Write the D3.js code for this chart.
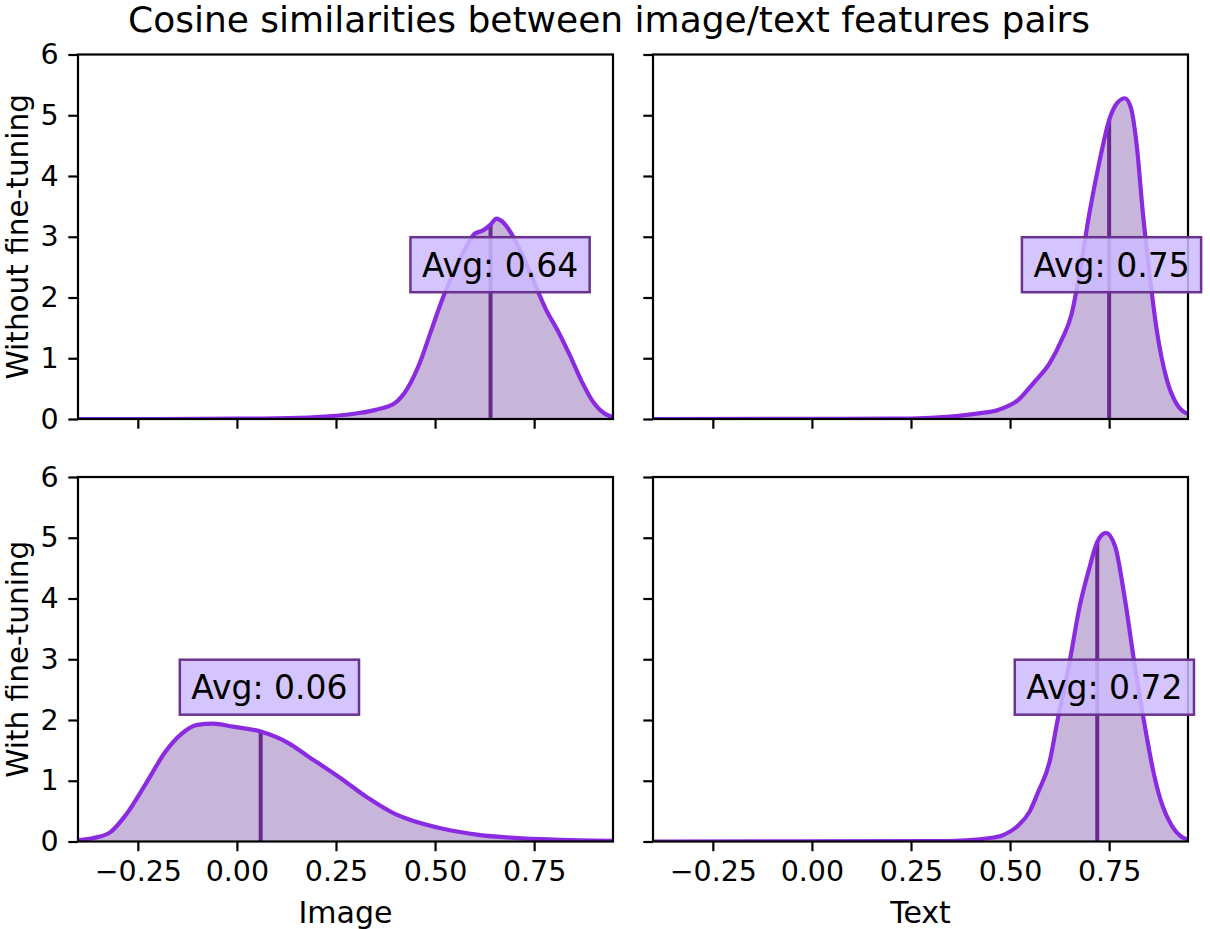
<!DOCTYPE html>
<html>
<head>
<meta charset="utf-8">
<script src="https://cdn.jsdelivr.net/npm/d3@7"></script>
<style>
  body { margin: 0; background: #fff; }
  svg text { font-family: "DejaVu Sans", sans-serif; }
</style>
</head>
<body>
<svg id="chart" width="1210" height="929"></svg>
<script>
// Density curves (x = cosine similarity, y = density)
const imgBeforeX = [-0.40, -0.20, 0.00, 0.10, 0.20, 0.30, 0.35, 0.40, 0.43, 0.46, 0.49, 0.52, 0.55, 0.58, 0.60, 0.62, 0.64, 0.655, 0.67, 0.69, 0.72, 0.75, 0.78, 0.81, 0.84, 0.87, 0.90, 0.93, 0.95];
const imgBeforeY = [0, 0, 0.005, 0.01, 0.03, 0.09, 0.15, 0.27, 0.5, 0.9, 1.45, 2.0, 2.45, 2.85, 3.05, 3.1, 3.2, 3.3, 3.25, 3.08, 2.7, 2.25, 1.8, 1.45, 1.05, 0.62, 0.27, 0.08, 0.03];

const txtBeforeX = [-0.40, 0.20, 0.30, 0.37, 0.43, 0.47, 0.52, 0.56, 0.60, 0.63, 0.655, 0.675, 0.70, 0.725, 0.75, 0.77, 0.79, 0.805, 0.82, 0.835, 0.85, 0.87, 0.895, 0.92, 0.95];
const txtBeforeY = [0, 0.005, 0.02, 0.05, 0.1, 0.15, 0.31, 0.6, 0.92, 1.3, 1.72, 2.38, 3.38, 4.22, 4.92, 5.2, 5.28, 5.12, 4.48, 3.4, 2.5, 1.47, 0.66, 0.25, 0.08];

const imgAfterX = [-0.40, -0.36, -0.32, -0.28, -0.23, -0.18, -0.14, -0.10, -0.06, -0.01, 0.06, 0.13, 0.18, 0.26, 0.33, 0.40, 0.44, 0.52, 0.61, 0.70, 0.80, 0.95];
const imgAfterY = [0.02, 0.06, 0.15, 0.44, 0.95, 1.48, 1.77, 1.92, 1.94, 1.89, 1.81, 1.62, 1.40, 1.05, 0.72, 0.45, 0.35, 0.21, 0.11, 0.06, 0.03, 0.01];

const txtAfterX = [-0.40, 0.30, 0.39, 0.44, 0.48, 0.52, 0.55, 0.57, 0.60, 0.62, 0.65, 0.675, 0.70, 0.72, 0.742, 0.765, 0.79, 0.815, 0.845, 0.86, 0.88, 0.91, 0.95];
const txtAfterY = [0, 0.005, 0.02, 0.05, 0.1, 0.26, 0.5, 0.8, 1.32, 2.0, 2.95, 3.85, 4.5, 4.93, 5.08, 4.86, 3.98, 2.88, 1.72, 1.2, 0.68, 0.24, 0.02];

const means = [0.64, 0.75, 0.06, 0.72];
const labelX = [0.664, 0.756, 0.082, 0.738];   // centre of the "Avg" boxes
const labelY = 2.54;

const xTicks = [-0.25, 0, 0.25, 0.5, 0.75];
const yTicks = [0, 1, 2, 3, 4, 5, 6];
const rowLabels = ["Without fine-tuning", "With fine-tuning"];
const colLabels = ["Image", "Text"];

const panels = [
  {row: 0, col: 0, xs: imgBeforeX, ys: imgBeforeY},
  {row: 0, col: 1, xs: txtBeforeX, ys: txtBeforeY},
  {row: 1, col: 0, xs: imgAfterX, ys: imgAfterY},
  {row: 1, col: 1, xs: txtAfterX, ys: txtAfterY}
];

// layout
const colLeft = [78, 653], panelW = 535;
const rowTop = [54.5, 477], panelH = 364.5;
const tickFont = "28.5px", labelFont = "30px", annFont = "33px";

const svg = d3.select("#chart");

svg.append("text")
  .attr("x", 609).attr("y", 32)
  .attr("text-anchor", "middle")
  .style("font-size", "36px")
  .text("Cosine similarities between image/text features pairs");

const defs = svg.append("defs");

panels.forEach((p, i) => {
  const g = svg.append("g")
    .attr("transform", `translate(${colLeft[p.col]}, ${rowTop[p.row]})`);

  const x = d3.scaleLinear().domain([-0.401, 0.949]).range([0, panelW]);
  const y = d3.scaleLinear().domain([0, 6]).range([panelH, 0]);

  defs.append("clipPath").attr("id", "clip" + i)
    .append("rect").attr("width", panelW).attr("height", panelH);

  const pts = p.xs.map((v, k) => [v, p.ys[k]]);
  const plot = g.append("g").attr("clip-path", `url(#clip${i})`);

  // filled density
  plot.append("path")
    .datum(pts)
    .attr("fill", "#c8b5da")
    .attr("d", d3.area()
      .x(d => x(d[0])).y0(y(0)).y1(d => y(d[1]))
      .curve(d3.curveMonotoneX));

  // mean line up to the curve
  const m = means[i];
  const k = d3.bisector(d => d[0]).left(pts, m);
  const a = pts[k - 1], b = pts[k];
  const top = a[1] + (b[1] - a[1]) * (m - a[0]) / (b[0] - a[0]);
  plot.append("line")
    .attr("x1", x(m)).attr("x2", x(m))
    .attr("y1", y(0)).attr("y2", y(top))
    .attr("stroke", "#682a8c")
    .attr("stroke-width", 4);

  // kde line
  plot.append("path")
    .datum(pts)
    .attr("fill", "none")
    .attr("stroke", "#8a2be2")
    .attr("stroke-width", 4.2)
    .attr("d", d3.line()
      .x(d => x(d[0])).y(d => y(d[1]))
      .curve(d3.curveMonotoneX));

  // axes
  const xAxis = g.append("g")
    .attr("transform", `translate(0, ${panelH})`)
    .call(d3.axisBottom(x).tickValues(xTicks)
      .tickSize(9.7).tickPadding(9.7)
      .tickFormat(p.row === 1 ? d3.format(".2f") : () => ""));
  const yAxis = g.append("g")
    .call(d3.axisLeft(y).tickValues(yTicks)
      .tickSize(9.7).tickPadding(9.7)
      .tickFormat(p.col === 0 ? d3.format("d") : () => ""));
  [xAxis, yAxis].forEach(ax => {
    ax.select(".domain").remove();
    ax.selectAll("line").attr("stroke", "#000").attr("stroke-width", 2.2);
    ax.selectAll("text")
      .style("font-size", tickFont)
      .style("font-family", "DejaVu Sans")
      .attr("fill", "#000");
  });

  // frame
  g.append("rect")
    .attr("width", panelW).attr("height", panelH)
    .attr("fill", "none")
    .attr("stroke", "#000")
    .attr("stroke-width", 2.2);

  // Avg box
  const ann = g.append("g")
    .attr("transform", `translate(${x(labelX[i])}, ${y(labelY)})`);
  const box = ann.append("rect");
  const txt = ann.append("text")
    .attr("text-anchor", "middle")
    .attr("dy", "0.36em")
    .style("font-size", annFont)
    .text("Avg: " + d3.format(".2f")(m));
  const tw = txt.node().getComputedTextLength();
  box.attr("x", -tw / 2 - 11.5).attr("y", -27.5)
    .attr("width", tw + 23).attr("height", 55)
    .attr("fill", "#ccbbff")
    .attr("fill-opacity", 0.85)
    .attr("stroke", "#6b3390")
    .attr("stroke-width", 2.5);

  if (p.row === 1) {
    g.append("text")
      .attr("x", panelW / 2).attr("y", panelH + 81)
      .attr("text-anchor", "middle")
      .style("font-size", labelFont)
      .text(colLabels[p.col]);
  }
  if (p.col === 0) {
    g.append("text")
      .attr("transform", `translate(${28 - colLeft[0]}, ${panelH / 2}) rotate(-90)`)
      .attr("text-anchor", "middle")
      .style("font-size", "29.5px")
      .text(rowLabels[p.row]);
  }
});
</script>
</body>
</html>
